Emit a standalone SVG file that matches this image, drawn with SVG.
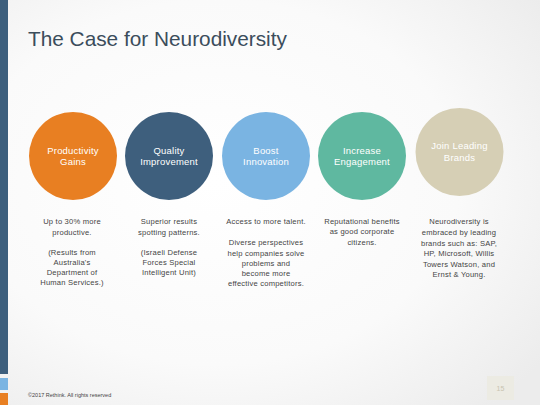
<svg xmlns="http://www.w3.org/2000/svg" width="540" height="405" viewBox="0 0 540 405">
<defs>
<radialGradient id="bg" cx="0.4" cy="0.45" r="0.75">
<stop offset="0" stop-color="#ffffff"/>
<stop offset="0.6" stop-color="#fafafa"/>
<stop offset="1" stop-color="#ececec"/>
</radialGradient>
</defs>
<style>
.t{font-family:"Liberation Sans",Arial,sans-serif}
.c{font-size:9.5px;fill:#ffffff;text-anchor:middle;letter-spacing:0.2px}
.d{font-size:7.6px;fill:#444444;text-anchor:middle;letter-spacing:0.2px}
</style>
<rect width="540" height="405" fill="url(#bg)"/>
<rect x="0" y="0" width="8" height="374" fill="#3d5f7d"/>
<rect x="0" y="378" width="8" height="12" fill="#7ab4e2"/>
<rect x="0" y="393" width="8" height="12" fill="#e87f22"/>
<text class="t" x="28" y="46" font-size="20.8" fill="#3b4d5c">The Case for Neurodiversity</text>
<g id="productivity">
<circle cx="73" cy="156" r="44" fill="#e87f22"/>
<text class="t c" x="73" y="154">Productivity</text>
<text class="t c" x="73" y="165">Gains</text>
<text class="t d" x="72" y="224">Up to 30% more</text>
<text class="t d" x="72" y="235">productive.</text>
<text class="t d" x="72" y="255">(Results from</text>
<text class="t d" x="72" y="265">Australia's</text>
<text class="t d" x="72" y="275">Department of</text>
<text class="t d" x="72" y="285">Human Services.)</text>
</g>
<g id="quality">
<circle cx="169" cy="156" r="44" fill="#3e5f7d"/>
<text class="t c" x="169" y="154">Quality</text>
<text class="t c" x="169" y="165">Improvement</text>
<text class="t d" x="169" y="224">Superior results</text>
<text class="t d" x="169" y="235">spotting patterns.</text>
<text class="t d" x="169" y="255">(Israeli Defense</text>
<text class="t d" x="169" y="265">Forces Special</text>
<text class="t d" x="169" y="275">Intelligent Unit)</text>
</g>
<g id="boost">
<circle cx="266" cy="156" r="44" fill="#7ab4e2"/>
<text class="t c" x="266" y="154">Boost</text>
<text class="t c" x="266" y="165">Innovation</text>
<text class="t d" x="266" y="224">Access to more talent.</text>
<text class="t d" x="266" y="245">Diverse perspectives</text>
<text class="t d" x="266" y="256">help companies solve</text>
<text class="t d" x="266" y="266">problems and</text>
<text class="t d" x="266" y="276">become more</text>
<text class="t d" x="266" y="286">effective competitors.</text>
</g>
<g id="engagement">
<circle cx="362" cy="156" r="44" fill="#5fb8a0"/>
<text class="t c" x="362" y="154">Increase</text>
<text class="t c" x="362" y="165">Engagement</text>
<text class="t d" x="362" y="224">Reputational benefits</text>
<text class="t d" x="362" y="234">as good corporate</text>
<text class="t d" x="362" y="245">citizens.</text>
</g>
<g id="brands">
<circle cx="459.5" cy="152" r="44" fill="#d6cfb5"/>
<text class="t c" x="459.5" y="149">Join Leading</text>
<text class="t c" x="459.5" y="161">Brands</text>
<text class="t d" x="459" y="224">Neurodiversity is</text>
<text class="t d" x="459" y="235">embraced by leading</text>
<text class="t d" x="459" y="246">brands such as: SAP,</text>
<text class="t d" x="459" y="256">HP, Microsoft, Willis</text>
<text class="t d" x="459" y="267">Towers Watson, and</text>
<text class="t d" x="459" y="277">Ernst &amp; Young.</text>
</g>
<text class="t" x="28" y="397" font-size="5.5" fill="#444444">©2017 Rethink. All rights reserved</text>
<rect x="487" y="376" width="27" height="24" fill="#ecebe3"/>
<text class="t" x="500.5" y="391" font-size="7" fill="#c8c4b0" text-anchor="middle">15</text>
</svg>
